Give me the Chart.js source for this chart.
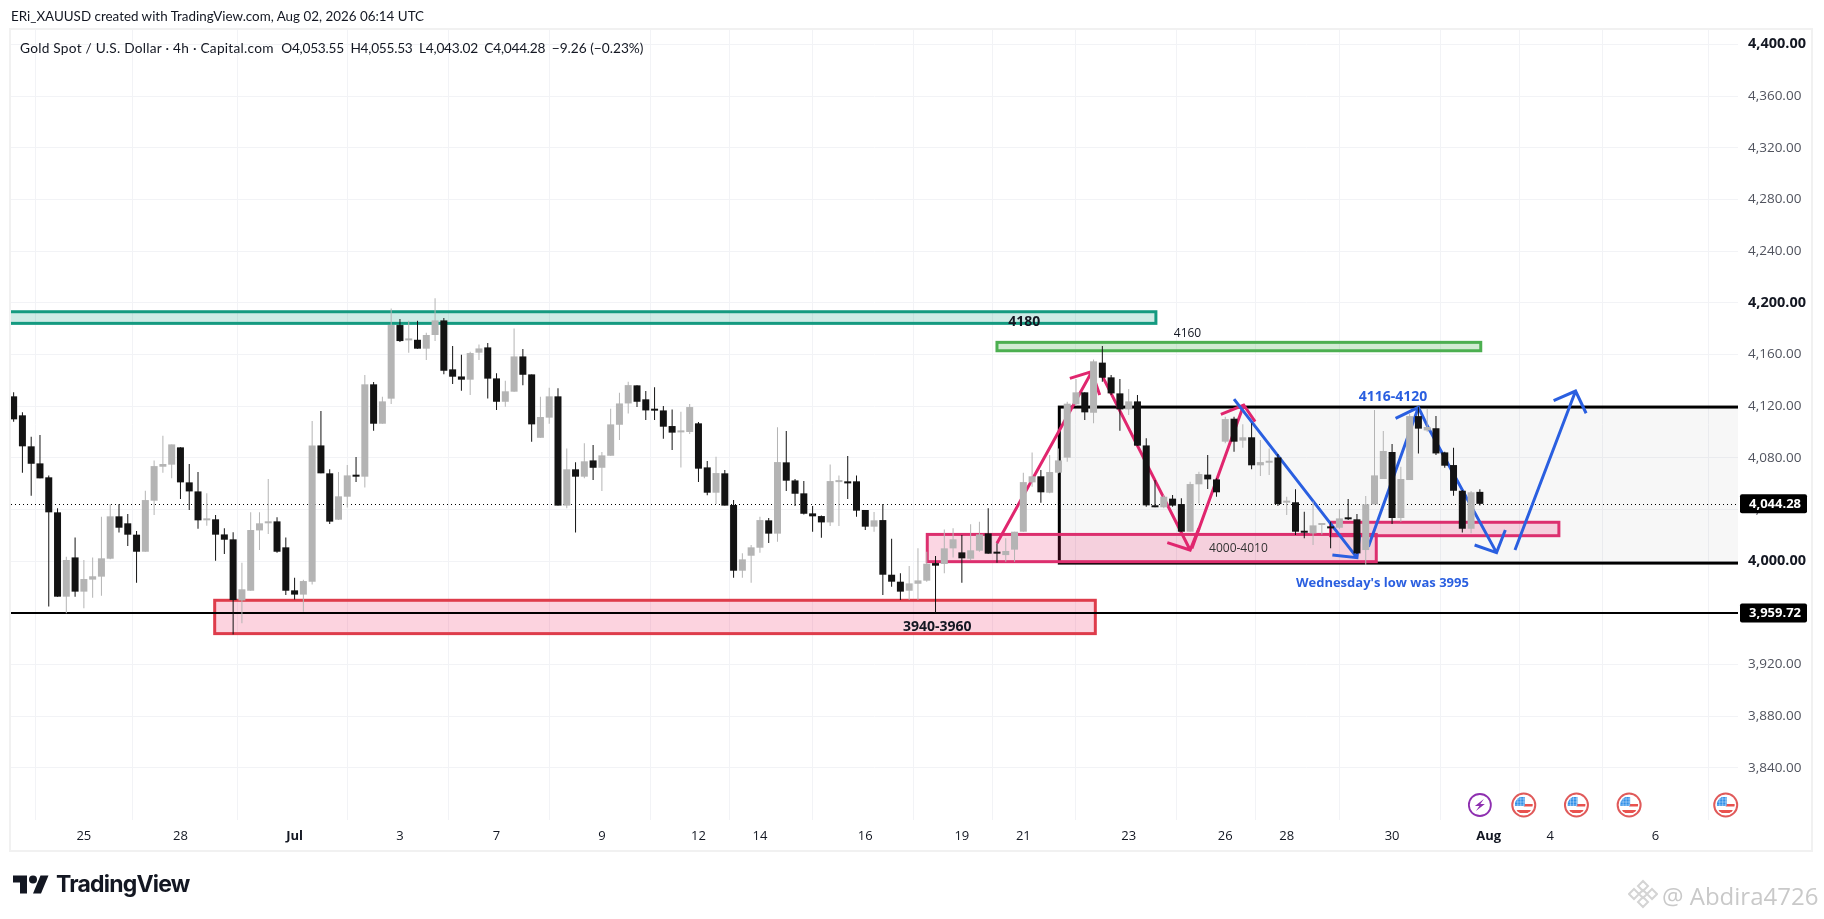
<!DOCTYPE html>
<html>
<head>
<meta charset="utf-8">
<title>Gold Spot / U.S. Dollar</title>
<script src="https://cdn.jsdelivr.net/npm/chart.js@4"></script>
<style>
html, body { margin: 0; padding: 0; background: #fff; overflow: hidden; }
#wrap { position: relative; width: 1824px; height: 919px; }
canvas { display: block; }
.txt { position: absolute; white-space: pre; font-family: "Lato", sans-serif; }
#created { left: 11px; top: 8px; font-size: 13.4px; color: #131722; }
#legend { left: 20px; top: 39px; font-size: 13.7px; color: #131722; }
#legend .name { letter-spacing: 0.25px; }
#legend .vals { letter-spacing: -0.25px; }
#brand { left: 56px; top: 870px; font-size: 23px; font-weight: 700; font-family: "Inter", sans-serif; color: #131722; letter-spacing: -0.8px; }
#mark { left: 1662px; top: 879px; font-size: 24px; color: #c9c9c9; font-family: "Open Sans", sans-serif; }
#logo { position: absolute; left: 13px; top: 875px; }
#diamond { position: absolute; left: 1628px; top: 879px; }
</style>
</head>
<body>
<div id="wrap">
<canvas id="goldChart" width="1824" height="919"></canvas>
<div class="txt" id="created">ERi_XAUUSD created with TradingView.com, Aug 02, 2026 06:14 UTC</div>
<div class="txt" id="legend"><span class="name">Gold Spot / U.S. Dollar · 4h · Capital.com  </span><span class="vals">O4,053.55  H4,055.53  L4,043.02  C4,044.28  </span>−9.26 (−0.23%)</div>
<svg id="logo" width="36" height="19" viewBox="0 4 36 18"><path fill="#131722" d="M14 22H7V11H0V4h14v18zM28 22h-8l7.5-18h8L28 22z"/><circle fill="#131722" cx="20" cy="8" r="4"/></svg>
<div class="txt" id="brand">TradingView</div>
<svg id="diamond" width="30" height="30" viewBox="0 0 30 30" fill="none" stroke="#d4d4d4" stroke-width="2"><path d="M15 2l5 5-5 5-5-5zM6 10l5 5-5 5-5-5zM24 10l5 5-5 5-5-5zM15 18l5 5-5 5-5-5zM15 11l4 4-4 4-4-4z"/></svg>
<div class="txt" id="mark">@ Abdira4726</div>
</div>
<script>
// candles, oldest first
const opens = [
4127.5,4112.8,4088.8,4075.6,4064.8,4037.7,3972.4,4002.8,3976.3,3985.6,
3987.9,4001.8,4034.6,4029.2,4020.4,4007.2,4046.7,4073.0,4074.6,4088.0,
4060.9,4053.9,4031.5,4032.3,4020.6,4016.8,3969.5,3977.0,4023.7,4029.2,
4030.7,4010.6,3977.3,3974.0,3984.0,4089.5,4067.9,4032.0,4049.8,4066.3,
4065.3,4136.8,4106.3,4125.7,4182.7,4170.8,4171.3,4164.4,4175.0,4186.3,
4148.4,4142.9,4140.4,4161.3,4165.4,4141.4,4123.3,4131.1,4158.4,4144.5,
4095.4,4111.0,4127.5,4042.9,4071.0,4065.3,4077.9,4072.2,4081.5,4105.5,
4122.0,4136.0,4125.2,4116.9,4116.6,4104.5,4099.6,4099.9,4106.6,4072.5,
4052.9,4067.9,4043.4,3992.5,4004.1,4010.3,4031.5,4021.2,4076.4,4062.4,
4052.4,4036.9,4034.8,4029.9,4061.1,4061.7,4061.7,4039.5,4026.6,4031.7,
3989.4,3984.0,3977.0,3982.4,3984.8,3998.4,3997.7,4009.8,4006.7,4001.8,
4008.0,4021.4,4006.2,4004.6,4008.8,4022.7,4060.9,4065.6,4052.9,4068.4,
4080.0,4121.3,4130.6,4114.8,4153.6,4142.2,4129.8,4117.4,4123.6,4089.5,
4042.9,4041.6,4048.3,4044.1,4022.7,4059.4,4066.9,4063.2,4092.4,4110.2,
4093.2,4095.8,4074.1,4076.1,4080.2,4045.2,4045.5,4022.9,4021.4,4027.9,
4026.6,4025.8,4033.0,4032.3,4008.5,4043.9,4063.5,4084.4,4033.3,4062.7,
4112.2,4101.1,4102.8,4084.1,4074.3,4054.4,4025.0,4053.55
];
const highs = [
4130.6,4115.1,4096.2,4097.5,4066.3,4040.8,4003.4,4018.3,4000.8,4002.8,
4034.3,4043.9,4043.9,4036.4,4023.2,4054.4,4077.9,4097.0,4090.3,4088.0,
4075.1,4068.9,4052.4,4035.6,4025.3,4022.2,3998.7,4037.7,4037.7,4063.5,
4033.8,4018.3,3987.1,3985.6,4108.4,4116.1,4071.0,4068.9,4074.3,4080.5,
4144.0,4138.6,4127.2,4195.6,4187.3,4186.0,4186.0,4176.8,4203.4,4188.1,
4166.4,4159.7,4162.0,4167.7,4168.8,4145.3,4139.6,4180.1,4164.1,4144.5,
4127.2,4134.2,4133.7,4087.2,4076.4,4091.1,4089.8,4084.4,4117.9,4130.3,
4138.8,4136.0,4131.6,4134.5,4120.0,4117.4,4115.6,4121.5,4107.6,4077.4,
4080.8,4070.4,4047.2,4006.0,4012.4,4034.3,4033.3,4103.5,4100.6,4063.5,
4061.9,4042.6,4035.3,4074.8,4066.3,4081.3,4066.3,4039.5,4037.9,4044.1,
4017.3,3990.5,3996.1,4009.8,4007.2,4003.9,4024.5,4025.3,4020.1,4028.4,
4030.5,4040.8,4013.7,4017.6,4022.7,4068.4,4084.1,4070.4,4082.0,4087.2,
4123.3,4140.9,4130.6,4156.1,4166.4,4144.0,4140.9,4133.2,4128.5,4095.0,
4062.7,4051.1,4051.1,4048.6,4061.4,4069.2,4082.0,4064.0,4111.7,4111.7,
4105.8,4106.6,4093.7,4087.2,4082.8,4049.8,4055.5,4038.2,4046.0,4029.2,
4030.5,4040.0,4048.0,4036.4,4050.4,4116.9,4100.6,4090.6,4073.0,4114.3,
4119.5,4117.7,4112.2,4084.6,4087.7,4055.0,4054.2,4055.53
];
const lows = [
4107.8,4068.4,4050.6,4064.0,3964.7,3972.4,3959.5,3972.4,3963.4,3971.6,
3973.2,4001.3,4022.0,4011.6,3983.2,4007.2,4035.6,4068.4,4064.0,4048.0,
4039.5,4025.0,4027.3,4000.3,4005.4,3943.2,3951.8,3977.0,4008.5,4020.9,
4006.5,3973.7,3970.3,3960.8,3981.9,4067.9,4028.6,4031.7,4041.5,4061.1,
4057.0,4100.9,4106.3,4121.5,4169.5,4161.3,4164.4,4155.6,4170.3,4144.7,
4137.0,4131.9,4128.5,4155.6,4125.9,4116.9,4119.5,4131.1,4136.0,4092.4,
4095.4,4106.3,4042.9,4040.8,4022.0,4064.0,4062.7,4054.2,4081.5,4093.7,
4114.3,4119.2,4109.1,4109.1,4094.7,4085.9,4072.5,4098.3,4061.1,4050.9,
4044.1,4042.9,3987.1,3987.1,3983.2,4006.5,4013.9,4015.0,4054.2,4042.6,
4036.1,4022.7,4018.1,4027.1,4027.1,4048.0,4034.3,4024.0,4022.7,3973.7,
3980.1,3969.8,3969.8,3969.8,3984.0,3960.0,3990.5,4002.8,3983.2,4000.8,
4007.2,4005.7,3998.7,3999.5,3999.5,4022.7,4057.5,4045.1,4052.4,4067.9,
4076.9,4120.0,4109.1,4106.6,4138.8,4128.5,4100.9,4113.0,4089.3,4042.1,
4041.6,4040.8,4042.1,4022.7,4022.7,4044.6,4055.7,4049.8,4091.1,4084.6,
4087.7,4071.0,4065.8,4066.6,4042.6,4035.6,4020.1,4017.6,4012.4,4020.6,
4009.8,4024.8,4031.7,4005.4,3997.0,4043.9,4063.5,4028.6,4030.5,4062.7,
4083.3,4100.1,4082.0,4072.2,4050.6,4022.0,4021.5,4043.02
];
const closes = [
4109.7,4088.8,4075.3,4064.0,4037.7,3972.4,4000.8,3976.3,3986.1,3988.2,
4002.1,4034.6,4025.8,4020.4,4007.2,4047.2,4073.5,4075.1,4090.3,4060.9,
4053.9,4031.5,4032.5,4020.4,4016.5,3969.8,3978.1,4024.0,4029.2,4030.7,
4007.2,3977.0,3974.0,3984.5,4089.5,4067.9,4030.5,4050.1,4066.3,4065.3,
4136.8,4106.3,4123.6,4182.7,4170.3,4171.6,4164.4,4175.0,4186.3,4147.3,
4142.7,4140.4,4161.0,4164.6,4141.2,4123.3,4131.4,4158.4,4144.2,4105.8,
4111.5,4127.5,4042.9,4071.0,4065.3,4077.2,4072.2,4081.8,4105.8,4122.0,
4136.2,4123.3,4116.6,4116.4,4104.0,4099.4,4100.4,4119.2,4071.5,4052.9,
4068.1,4042.9,3992.5,4001.3,4010.6,4031.7,4021.2,4076.6,4062.2,4052.1,
4036.6,4034.6,4029.9,4061.9,4061.7,4060.1,4039.0,4026.6,4031.5,3989.4,
3984.0,3976.3,3982.7,3985.0,3997.9,3996.4,4009.8,4016.8,4002.1,4008.3,
4020.6,4005.7,4005.7,4007.8,4022.7,4061.1,4065.6,4053.2,4068.9,4077.9,
4121.8,4130.6,4115.1,4154.6,4141.9,4129.8,4117.4,4123.6,4089.3,4043.1,
4041.6,4049.8,4042.9,4022.7,4059.6,4067.4,4063.2,4053.2,4109.9,4092.4,
4095.8,4074.1,4076.6,4076.6,4044.1,4046.0,4022.7,4021.9,4027.6,4028.7,
4025.3,4033.0,4032.3,4005.9,4043.9,4066.3,4085.2,4033.3,4063.5,4112.2,
4102.5,4103.8,4083.3,4073.8,4054.4,4025.0,4053.2,4044.28
];

// x axis: candle number -> date label
const dateIdx = [8,19,32,44,55,67,78,85,97,108,115,127,138,145,157,168,175,187];
const dateLabels = ['25','28','Jul','3','7','9','12','14','16','19','21','23','26','28','30','Aug','4','6'];
const priceTicks = [3840,3880,3920,3960,4000,4040,4080,4120,4160,4200,4240,4280,4320,4360,4400];
const boldPrices = [4000,4200,4400];
const eventIdx = [167,172,178,184,195];

const lastClose = 4044.28;
const lineLevel = 3959.72;

// drawings, in candle number / price
const zones = [
    { x0: -3, x1: 130.1, top: 4193.0, bottom: 4184.0, line: '#149a80', fill: 'rgba(8,153,129,0.2)' },
    { x0: 112, x1: 167.1, top: 4169.3, bottom: 4162.8, line: '#4caf50', fill: 'rgba(76,175,80,0.25)' },
    { x0: 119.1, x1: 220, top: 4119.2, bottom: 3998.4, line: '#000000', fill: 'rgba(0,0,0,0.03)' },
    { x0: 22.9, x1: 123.2, top: 3969.6, bottom: 3943.8, line: '#de3c4b', fill: 'rgba(242,54,110,0.22)' },
    { x0: 104.06, x1: 155.2, top: 4020.6, bottom: 3999.5, line: '#dc2f6e', fill: 'rgba(233,30,99,0.18)' },
    { x0: 150, x1: 176, top: 4030, bottom: 4019.6, line: '#dc2f6e', fill: 'rgba(233,30,99,0.18)' }
];
const arrows = [
    { color: '#e0266e', from: [112, 4013.7], tip: [122.8, 4146.6], a: [120.3, 4141.4], b: [123.7, 4128.5] },
    { color: '#e0266e', from: [123.9, 4144.5], tip: [134, 4008.5], a: [131.4, 4014.2], b: [135, 4025.3] },
    { color: '#e0266e', from: [134.2, 4009.8], tip: [140.1, 4120.8], a: [137.5, 4113.5], b: [141.4, 4107.9] },
    { color: '#2a5fe0', from: [139, 4125.4], tip: [153, 4002.6], a: [150.2, 4004.7], b: [153.3, 4020.2] },
    { color: '#2a5fe0', from: [154.3, 4011.1], tip: [160, 4119], a: [157.4, 4110.5], b: [161.1, 4103.5] },
    { color: '#2a5fe0', from: [161.1, 4103.5], tip: [168.9, 4006.5], a: [166.4, 4012.4], b: [169.9, 4024] },
    { color: '#2a5fe0', from: [171, 4008.6], tip: [177.9, 4131.6], a: [175.4, 4124.2], b: [179.1, 4114.4] }
];
const notes = [
    { text: '4180', x: 115.1, y: 4185.3, font: 'bold 14px "Open Sans"', color: '#131722' },
    { text: '4160', x: 133.7, y: 4176.3, font: '12px "Open Sans"', color: '#131722' },
    { text: '3940-3960', x: 105.2, y: 3949.2, font: 'bold 14px "Open Sans"', color: '#131722' },
    { text: '4000-4010', x: 139.5, y: 4009.3, font: '12px "Open Sans"', color: '#333333' },
    { text: '4116-4120', x: 157.1, y: 4126.8, font: 'bold 14px "Open Sans"', color: '#2a5fe0' },
    { text: "Wednesday's low was 3995", x: 155.9, y: 3982.9, font: 'bold 13px "Open Sans"', color: '#2a5fe0' }
];

const UP = '#b4b4b4';
const DOWN = '#131313';
const colors = closes.map(function(c, i) { return c >= opens[i] ? UP : DOWN; });
const wicks = closes.map(function(c, i) { return { x: i, y: [lows[i], highs[i]] }; });
const bodies = closes.map(function(c, i) { return { x: i, y: [opens[i], c] }; });

function fmt(v) {
    return v.toLocaleString('en-US', { minimumFractionDigits: 2, maximumFractionDigits: 2 });
}

function isBold(c) {
    return !!c.tick && boldPrices.indexOf(c.tick.value) >= 0;
}

function drawFlag(ctx, x, y) {
    ctx.save();
    ctx.beginPath();
    ctx.arc(x, y, 11.5, 0, Math.PI * 2);
    ctx.fillStyle = '#fff';
    ctx.fill();
    ctx.lineWidth = 2;
    ctx.strokeStyle = '#e05a5a';
    ctx.stroke();
    ctx.beginPath();
    ctx.arc(x, y, 9, 0, Math.PI * 2);
    ctx.clip();
    ctx.fillStyle = '#e9524f';
    ctx.fillRect(x, y - 1, 10, 2.5);
    ctx.fillRect(x - 9, y + 5, 18, 3);
    ctx.fillStyle = '#2f8fe8';
    ctx.fillRect(x - 9, y - 8, 10, 9);
    ctx.strokeStyle = 'rgba(255,255,255,0.55)';
    ctx.lineWidth = 0.7;
    ctx.beginPath();
    [-6, -3, 0].forEach(function(d) {
        ctx.moveTo(x + d, y - 8);
        ctx.lineTo(x + d, y + 1);
        ctx.moveTo(x - 9, y + d + 0);
        ctx.lineTo(x + 1, y + d + 0);
    });
    ctx.stroke();
    ctx.restore();
}

function drawBolt(ctx, x, y) {
    ctx.save();
    ctx.beginPath();
    ctx.arc(x, y, 11, 0, Math.PI * 2);
    ctx.lineWidth = 1.8;
    ctx.strokeStyle = '#8e2fb0';
    ctx.stroke();
    ctx.beginPath();
    ctx.moveTo(x + 4, y - 6);
    ctx.lineTo(x - 5, y + 1);
    ctx.lineTo(x - 0.5, y + 1);
    ctx.lineTo(x - 4, y + 6);
    ctx.lineTo(x + 5, y - 1);
    ctx.lineTo(x + 0.5, y - 1);
    ctx.closePath();
    ctx.fillStyle = '#8e2fb0';
    ctx.fill();
    ctx.restore();
}

function drawTag(ctx, area, y, text) {
    ctx.fillStyle = '#000';
    ctx.beginPath();
    ctx.roundRect(area.right + 2, y - 9.5, 67, 19, 2);
    ctx.fill();
    ctx.fillStyle = '#fff';
    ctx.font = 'bold 13px "Open Sans"';
    ctx.textAlign = 'left';
    ctx.textBaseline = 'middle';
    ctx.fillText(text, area.right + 11, y);
}

const drawings = {
    id: 'drawings',
    beforeDatasetsDraw: function(chart) {
        const ctx = chart.ctx, xs = chart.scales.x, ys = chart.scales.y, area = chart.chartArea;
        ctx.save();
        // panel frame
        ctx.strokeStyle = '#f1f1f1';
        ctx.lineWidth = 2;
        ctx.strokeRect(10, 29, 1802, 822);

        ctx.beginPath();
        ctx.rect(area.left, area.top, area.width, area.height);
        ctx.clip();

        zones.forEach(function(z) {
            const x0 = xs.getPixelForValue(z.x0), x1 = xs.getPixelForValue(z.x1);
            const y0 = ys.getPixelForValue(z.top), y1 = ys.getPixelForValue(z.bottom);
            ctx.fillStyle = z.fill;
            ctx.fillRect(x0, y0, x1 - x0, y1 - y0);
            ctx.strokeStyle = z.line;
            ctx.lineWidth = 3;
            ctx.strokeRect(x0, y0, x1 - x0, y1 - y0);
        });

        // last price and horizontal level
        ctx.strokeStyle = '#000';
        ctx.lineWidth = 2;
        ctx.beginPath();
        ctx.moveTo(area.left, ys.getPixelForValue(lineLevel));
        ctx.lineTo(area.right, ys.getPixelForValue(lineLevel));
        ctx.stroke();
        ctx.lineWidth = 1;
        ctx.setLineDash([1, 3]);
        ctx.beginPath();
        ctx.moveTo(area.left, Math.round(ys.getPixelForValue(lastClose)) + 0.5);
        ctx.lineTo(area.right, Math.round(ys.getPixelForValue(lastClose)) + 0.5);
        ctx.stroke();
        ctx.setLineDash([]);

        arrows.forEach(function(a) {
            ctx.strokeStyle = a.color;
            ctx.lineWidth = 3;
            ctx.beginPath();
            ctx.moveTo(xs.getPixelForValue(a.from[0]), ys.getPixelForValue(a.from[1]));
            ctx.lineTo(xs.getPixelForValue(a.tip[0]), ys.getPixelForValue(a.tip[1]));
            ctx.moveTo(xs.getPixelForValue(a.a[0]), ys.getPixelForValue(a.a[1]));
            ctx.lineTo(xs.getPixelForValue(a.tip[0]), ys.getPixelForValue(a.tip[1]));
            ctx.lineTo(xs.getPixelForValue(a.b[0]), ys.getPixelForValue(a.b[1]));
            ctx.stroke();
        });
        ctx.restore();
    },
    afterDatasetsDraw: function(chart) {
        const ctx = chart.ctx, xs = chart.scales.x, ys = chart.scales.y, area = chart.chartArea;
        ctx.save();
        notes.forEach(function(n) {
            ctx.font = n.font;
            ctx.fillStyle = n.color;
            ctx.textAlign = 'center';
            ctx.textBaseline = 'middle';
            ctx.fillText(n.text, xs.getPixelForValue(n.x), ys.getPixelForValue(n.y));
        });
        eventIdx.forEach(function(e, i) {
            if (i === 0) {
                drawBolt(ctx, xs.getPixelForValue(e), 805);
            } else {
                drawFlag(ctx, xs.getPixelForValue(e), 805);
            }
        });
        drawTag(ctx, area, ys.getPixelForValue(lastClose), fmt(lastClose));
        drawTag(ctx, area, ys.getPixelForValue(lineLevel), fmt(lineLevel));
        ctx.restore();
    }
};

new Chart(document.getElementById('goldChart').getContext('2d'), {
    type: 'bar',
    data: {
        datasets: [
            { label: 'Bodies', data: bodies, backgroundColor: colors, barThickness: 7, grouped: false, order: 1, minBarLength: 2, inflateAmount: 0 },
            { label: 'Wicks', data: wicks, backgroundColor: colors, barThickness: 1, grouped: false, order: 2, inflateAmount: 0 }
        ]
    },
    options: {
        responsive: false,
        animation: false,
        devicePixelRatio: 1,
        layout: { padding: { left: 11, top: 29, right: 13, bottom: 69 } },
        plugins: { legend: { display: false }, tooltip: { enabled: false } },
        scales: {
            x: {
                type: 'linear',
                offset: false,
                min: -0.3,
                max: 196.4,
                border: { display: false },
                grid: { color: '#f2f3f6', drawTicks: false },
                afterBuildTicks: function(scale) {
                    scale.ticks = dateIdx.map(function(v) { return { value: v }; });
                },
                afterFit: function(scale) { scale.height = 30; },
                ticks: {
                    autoSkip: false,
                    maxRotation: 0,
                    padding: 8,
                    color: '#131722',
                    font: function(c) {
                        const label = c.tick ? dateLabels[dateIdx.indexOf(c.tick.value)] : '';
                        return { family: 'Open Sans', size: 13, weight: (label === 'Jul' || label === 'Aug') ? 'bold' : 'normal' };
                    },
                    callback: function(value) { return dateLabels[dateIdx.indexOf(value)]; }
                }
            },
            y: {
                position: 'right',
                min: 3799.5,
                max: 4411.9,
                border: { display: false },
                grid: { color: '#f2f3f6', drawTicks: false },
                afterBuildTicks: function(scale) {
                    scale.ticks = priceTicks.map(function(v) { return { value: v }; });
                },
                afterFit: function(scale) { scale.width = 73; },
                ticks: {
                    autoSkip: false,
                    padding: 10,
                    color: function(c) { return isBold(c) ? '#131722' : '#50535e'; },
                    font: function(c) {
                        return { family: 'Open Sans', size: isBold(c) ? 14.5 : 13.5, weight: isBold(c) ? 'bold' : 'normal' };
                    },
                    callback: function(value) { return fmt(value); }
                }
            }
        }
    },
    plugins: [drawings]
});
</script>
</body>
</html>
